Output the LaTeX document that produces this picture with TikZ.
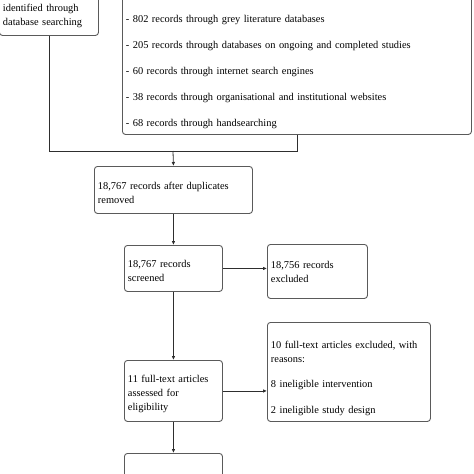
\documentclass[tikz,border=0pt]{standalone}
\usepackage{fontspec}
\setmainfont{Liberation Serif}
\usepackage{tikz}
\usetikzlibrary{arrows.meta, positioning, calc}
\definecolor{boxline}{HTML}{5A5A5A}
\definecolor{conline}{HTML}{2E2E2E}
\tikzset{
  rbox/.style={rectangle, rounded corners=3pt, draw=boxline, line width=0.9pt,
               anchor=north west, inner xsep=3.5pt, inner ysep=0pt,
               align=left, font=\fontsize{10.4}{14}\selectfont},
  arr/.style={-{Latex[length=4pt,width=3.6pt]}, line width=0.8pt, draw=conline},
  ln/.style={line width=0.8pt, draw=conline},
}

\begin{document}
\begin{tikzpicture}[x=1pt, y=-1pt]
  \useasboundingbox (0,0) rectangle (474,474);
  \clip (0,0) rectangle (474,474);
  % identification
  \node[rbox, text width=92pt, text height=51pt, text depth=24pt]
       (srch) at (-1,-40) {identified through\\database searching};
  \node[rbox, text width=342pt, text height=62pt, text depth=112pt]
       (grey) at (122,-40) {- 802 records through grey literature databases\\[12pt]
       - 205 records through databases on ongoing and completed studies\\[12pt]
       - 60 records through internet search engines\\[12pt]
       - 38 records through organisational and institutional websites\\[12pt]
       - 68 records through handsearching};
  \coordinate (join) at (173,151);
  % screening
  \node[rbox, text width=151pt, text height=23pt, text depth=24pt]
       (dup) at (94,166) {18,767 records after duplicates\\removed};
  \node[rbox, text width=91pt, text height=22pt, text depth=24pt]
       (scr) at (124,245) {18,767 records\\screened};
  \node[rbox, text width=93pt, text height=24pt, text depth=30pt]
       (exc) at (267,244) {18,756 records\\excluded};
  % eligibility
  \node[rbox, text width=91pt, text height=22pt, text depth=39pt]
       (elig) at (124,360) {11 full-text articles\\assessed for\\eligibility};
  \node[rbox, text width=156pt, text height=26pt, text depth=73pt]
       (ftx) at (267,322) {10 full-text articles excluded, with\\reasons:\\[11pt]
       8 ineligible intervention\\[12pt]2 ineligible study design};
  % included
  \node[rbox, text width=91pt, text height=20pt, text depth=30pt]
       (incl) at (124,453) {};
  \draw[ln](srch.south) |- (join);
  \draw[ln](grey.south) |- (join);
  \draw[arr](join) -- (dup.north);
  \draw[arr](dup.south) -- (scr.north);
  \draw[arr](scr.east) -- (scr.east -| exc.west);
  \draw[arr](scr.south) -- (elig.north);
  \draw[arr](elig.east) -- (elig.east -| ftx.west);
  \draw[arr](elig.south) -- (incl.north);
\end{tikzpicture}
\end{document}
